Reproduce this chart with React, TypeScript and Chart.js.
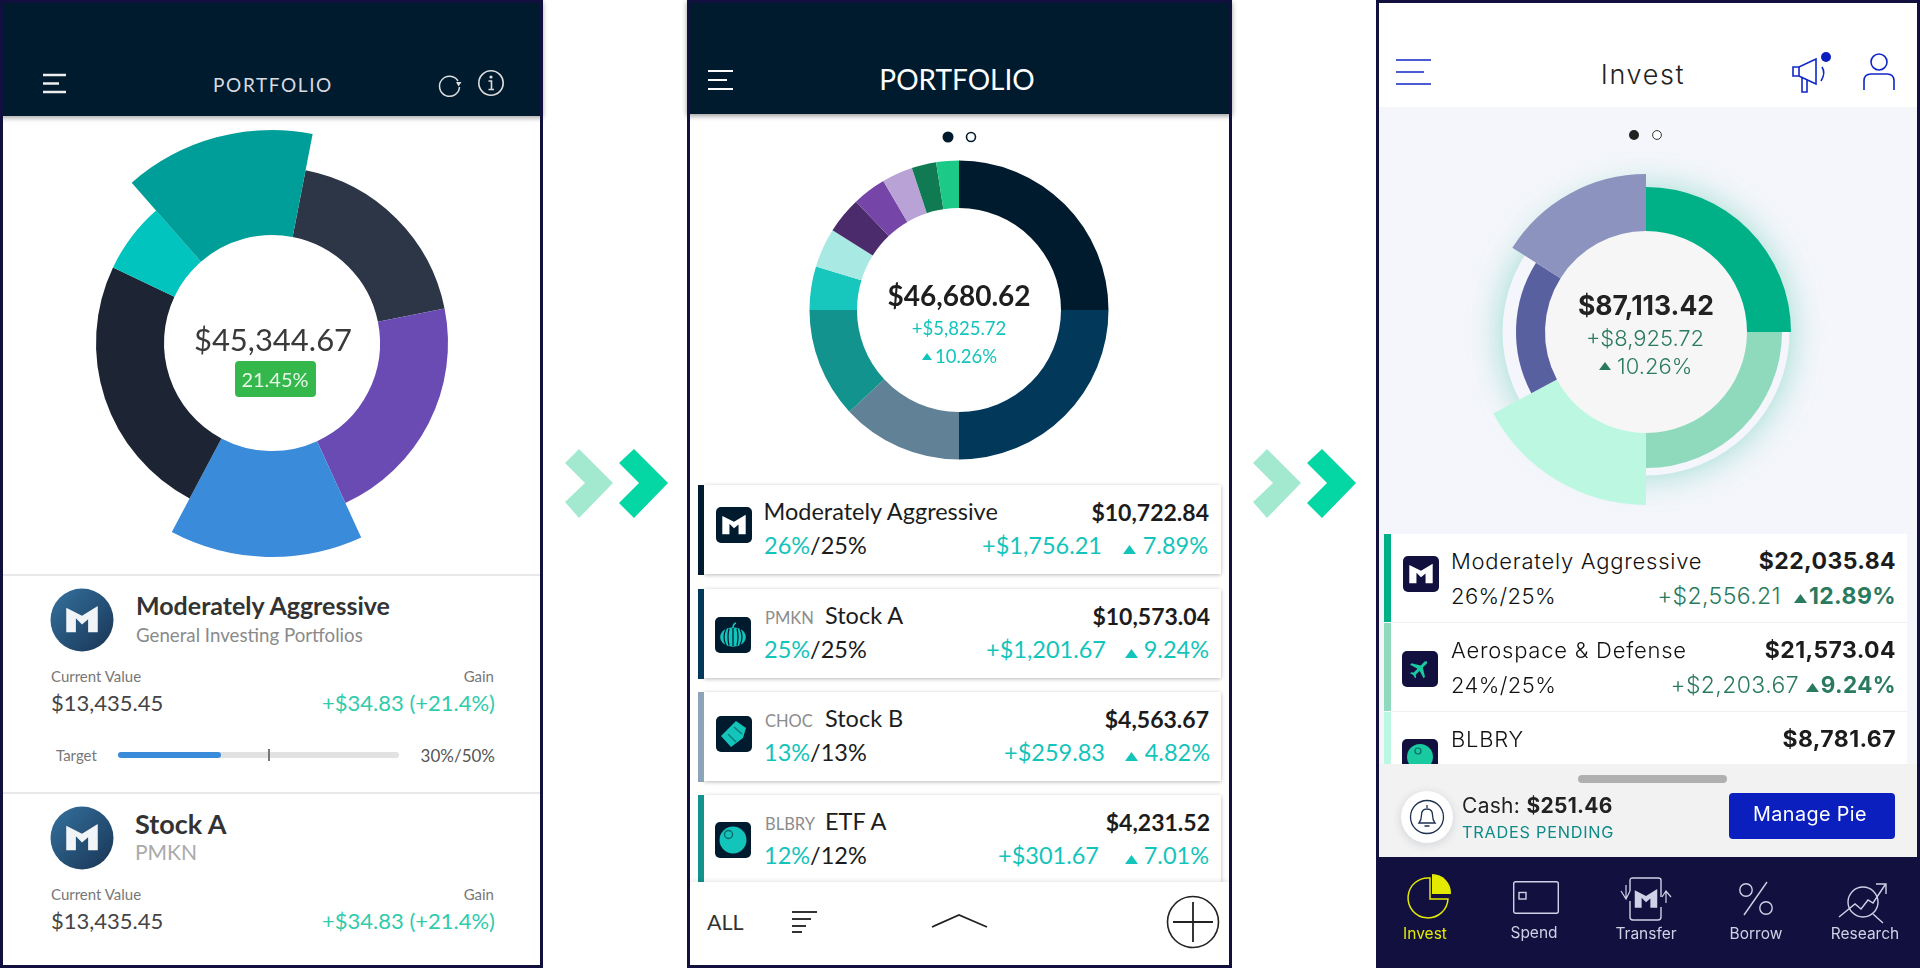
import React, { useEffect, useRef } from "react";
import Chart from "chart.js/auto";

const LATO = "Lato, sans-serif";
const INTER = "Inter, sans-serif";
const FRAME = "#12103f";
const HEAD = "#001a2e";
const MINT = "#13c4bb";
const GREEN3 = "#2a7a60";

// left screen
const holdings1 = ["Stock C", "Stock D", "Moderately Aggressive", "Stock A", "Stock B", "ETF A"];
const shares1 = [18.8, 21.3, 14.6, 24.3, 6.5, 14.5];
const colors1 = ["#2d3646", "#6a4bb3", "#3b8bdb", "#1d2433", "#00c4bd", "#009e99"];
const radii1 = [176, 176, 214, 176, 176, 213];

// middle screen
const holdings2 = ["Moderately Aggressive", "Stock A", "Stock B", "ETF A", "ETF B", "ETF C", "ETF D", "ETF E", "ETF F", "ETF G", "ETF H"];
const shares2 = [25, 25, 13.1, 11.9, 4.7, 4.25, 3.95, 3.65, 3.35, 2.65, 2.45];
const colors2 = ["#001a2e", "#02385a", "#618196", "#13938e", "#17c6bd", "#a8e9e4", "#4b2b6b", "#7545a8", "#b9a3d6", "#107a52", "#1cc986"];

const names2 = ["Moderately Aggressive", "Stock A", "Stock B", "ETF A"];
const tickers2 = ["", "PMKN", "CHOC", "BLBRY"];
const values2 = ["$10,722.84", "$10,573.04", "$4,563.67", "$4,231.52"];
const actual2 = ["26%", "25%", "13%", "12%"];
const target2 = ["25%", "25%", "13%", "12%"];
const gains2 = ["+$1,756.21", "+$1,201.67", "+$259.83", "+$301.67"];
const pct2 = ["7.89%", "9.24%", "4.82%", "7.01%"];

// right screen
const holdings3 = ["Moderately Aggressive", "Aerospace & Defense", "BLBRY", "Stock D", "Stock E"];
const shares3 = [25, 25, 17.2, 16.75, 16.05];
const colors3 = ["#00b086", "#8fd9bd", "#bcf7e2", "#5860a0", "#8c93be"];
const radii3 = [145, 136, 173, 130, 158];

const navLabels = ["Invest", "Spend", "Transfer", "Borrow", "Research"];

// doughnut has one outer radius per dataset, these screens pop single slices out
const ringShape = {
  id: "ringShape",
  afterDatasetsUpdate(chart: any, _a: any, opts: any) {
    chart.getDatasetMeta(0).data.forEach((arc: any, i: number) => {
      arc.innerRadius = opts.hole;
      arc.outerRadius = opts.radii[i];
    });
  },
  beforeDatasetsDraw(chart: any, _a: any, opts: any) {
    if (!opts.backing) return;
    const { ctx, width, height } = chart;
    ctx.save();
    ctx.shadowColor = "rgba(0,176,134,0.38)";
    ctx.shadowBlur = 34;
    ctx.fillStyle = opts.backing;
    ctx.beginPath();
    ctx.arc(width / 2, height / 2, opts.backingRadius, 0, Math.PI * 2);
    ctx.fill();
    ctx.shadowBlur = 0;
    ctx.shadowColor = "transparent";
    ctx.fillStyle = opts.holeColor;
    ctx.beginPath();
    ctx.arc(width / 2, height / 2, opts.hole, 0, Math.PI * 2);
    ctx.fill();
    ctx.restore();
  },
};

function Ring({ labels, values, colors, radii, hole, rotation = 0, cx, cy, size, backing, backingRadius, holeColor }: any) {
  const ref = useRef<HTMLCanvasElement>(null);
  useEffect(() => {
    const chart = new Chart(ref.current!, {
      type: "doughnut",
      data: { labels, datasets: [{ data: values, backgroundColor: colors, borderWidth: 0 }] },
      options: {
        responsive: false,
        animation: false,
        events: [],
        rotation,
        plugins: {
          legend: { display: false },
          tooltip: { enabled: false },
          ringShape: { radii, hole, backing, backingRadius, holeColor },
        } as any,
      },
      plugins: [ringShape as any],
    });
    return () => chart.destroy();
  }, []);
  return (
    <canvas
      ref={ref}
      width={size}
      height={size}
      style={{ position: "absolute", left: cx - size / 2, top: cy - size / 2, width: size, height: size }}
    />
  );
}

function T({ x, y, s, c = "#1c1c1c", f = LATO, w = 400, a = "l", ls = 0, children }: any) {
  const tx = a === "c" ? "translate(-50%,-50%)" : a === "r" ? "translate(-100%,-50%)" : "translateY(-50%)";
  return (
    <div
      style={{
        position: "absolute",
        left: x,
        top: y,
        transform: tx,
        fontFamily: f,
        fontSize: s,
        fontWeight: w,
        color: c,
        letterSpacing: ls,
        lineHeight: 1,
        whiteSpace: "nowrap",
      }}
    >
      {children}
    </div>
  );
}

function Box({ x, y, w, h, c, r = 0, sh }: any) {
  return (
    <div
      style={{ position: "absolute", left: x, top: y, width: w, height: h, background: c, borderRadius: r, boxShadow: sh }}
    />
  );
}

function Ico({ x, y, w, h, vb, children }: any) {
  return (
    <svg
      width={w}
      height={h}
      viewBox={vb || `0 0 ${w} ${h}`}
      style={{ position: "absolute", left: x, top: y, overflow: "visible" }}
    >
      {children}
    </svg>
  );
}

function Tri({ x, y, w = 13, h = 9, c }: any) {
  return (
    <Ico x={x} y={y} w={w} h={h}>
      <polygon points={`0,${h} ${w / 2},0 ${w},${h}`} fill={c} />
    </Ico>
  );
}

function Burger({ x, y, w, gap, c, lw, mid }: any) {
  return (
    <Ico x={x} y={y} w={w} h={gap * 2}>
      <path d={`M0 0H${w}M0 ${gap}H${mid}M0 ${gap * 2}H${w}`} stroke={c} strokeWidth={lw} fill="none" />
    </Ico>
  );
}

const M_PATH = "M3 5 L12 9.5 L21 4 L21 19 L15.5 19 L15.5 11.5 L12 14.5 L8.5 11 L8.5 19 L3 19 Z";

function MTile({ x, y, bg = "#001a2e" }: any) {
  return (
    <Ico x={x} y={y} w={36} h={36} vb="0 0 36 36">
      <rect width="36" height="36" rx="5" fill={bg} />
      <g transform="translate(2.4,2.5) scale(1.3)">
        <path d={M_PATH} fill="#fff" />
      </g>
    </Ico>
  );
}

function Roundel({ id, cx, cy }: any) {
  return (
    <Ico x={cx - 32} y={cy - 32} w={64} h={64} vb="0 0 64 64">
      <defs>
        <linearGradient id={id} x1="0" y1="0" x2="1" y2="1">
          <stop offset="0" stopColor="#35729f" />
          <stop offset="1" stopColor="#183454" />
        </linearGradient>
      </defs>
      <circle cx="32" cy="32" r="31.5" fill={`url(#${id})`} />
      <g transform="translate(11,11) scale(1.75)">
        <path d={M_PATH} fill="#f2f5f8" />
      </g>
    </Ico>
  );
}

function LeftRow({ y }: any) {
  return (
    <>
      <T x={51} y={y} s={15} c="#777">Current Value</T>
      <T x={494} y={y} s={15} c="#777" a="r">Gain</T>
      <T x={51} y={y + 27} s={22} c="#444">$13,435.45</T>
      <T x={495} y={y + 27} s={22} c="#2fcbab" a="r">+$34.83 (+21.4%)</T>
    </>
  );
}

function LeftScreen() {
  return (
    <div style={{ position: "absolute", left: 0, top: 0, width: 1920, height: 968, filter: "blur(0.55px)" }}>
      <Box x={0} y={0} w={543} h={968} c="#fff" />
      <Box x={0} y={0} w={543} h={116} c={HEAD} sh="0 2px 5px rgba(0,0,0,.35)" />
      <Burger x={43} y={75} w={23} gap={8.5} c="#eee" lw={2.4} mid={16} />
      <T x={273} y={84} s={19} c="#d8dce0" a="c" ls={1.6}>PORTFOLIO</T>
      <Ico x={438} y={73} w={24} h={24} vb="0 0 24 24">
        <path d="M20 8A10 10 0 1 0 21.5 14" stroke="#ddd" strokeWidth="1.5" fill="none" />
        <polygon points="23.5,9 18,9 20.5,13.5" fill="#ddd" />
      </Ico>
      <Ico x={478} y={70} w={26} h={26} vb="0 0 26 26">
        <circle cx="13" cy="13" r="12.2" stroke="#ddd" strokeWidth="1.6" fill="none" />
        <circle cx="13" cy="7" r="1.6" fill="#ddd" />
        <path d="M10.5 11H13.5V19M10.5 19.5H16" stroke="#ddd" strokeWidth="1.6" fill="none" />
      </Ico>
      <Ring labels={holdings1} values={shares1} colors={colors1} radii={radii1} hole={108} rotation={11} cx={272} cy={343} size={450} />
      <T x={273} y={339} s={31} c="#3a3a3a" a="c">$45,344.67</T>
      <Box x={235} y={361} w={81} h={36} c="#34b84c" r={4} />
      <T x={275} y={379} s={20} c="#e6f8e8" a="c">21.45%</T>

      <Box x={3} y={574} w={537} h={2} c="#e8e8e8" />
      <Roundel id="rd1" cx={82} cy={620} />
      <T x={136} y={605} s={25} c="#333" w={700}>Moderately Aggressive</T>
      <T x={136} y={635} s={18.7} c="#8a8a8a">General Investing Portfolios</T>
      <LeftRow y={676} />
      <T x={56} y={755} s={15} c="#777">Target</T>
      <Box x={118} y={752} w={281} h={6} c="#e2e2e2" r={3} />
      <Box x={118} y={752} w={103} h={6} c="#3b8bdb" r={3} />
      <Box x={268} y={749} w={2} h={12} c="#777" />
      <T x={495} y={755} s={17} c="#555" a="r">30%/50%</T>
      <Box x={3} y={792} w={537} h={2} c="#e8e8e8" />
      <Roundel id="rd2" cx={82} cy={838} />
      <T x={135} y={823} s={27} c="#333" w={700}>Stock A</T>
      <T x={135} y={851} s={21} c="#aaa">PMKN</T>
      <LeftRow y={894} />

      <div style={{ position: "absolute", left: 0, top: 0, width: 543, height: 968, boxSizing: "border-box", border: `3px solid ${FRAME}` }} />
    </div>
  );
}

const cardTops2 = [485, 589, 692, 795];
const stripes2 = ["#001a2e", "#02385a", "#8ba4b8", "#13938e"];

function PumpkinIcon() {
  return (
    <g fill="none" stroke={MINT} strokeWidth="1.6">
      <ellipse cx="18" cy="20" rx="12" ry="9" fill={MINT} />
      <path d="M11 12Q7 20 11 28M18 11V29M25 12Q29 20 25 28M14 11.5Q12 20 14 28.5M22 11.5Q24 20 22 28.5" stroke="#001a2e" strokeWidth="1.2" />
      <path d="M18 11Q18 7 21 6" />
    </g>
  );
}

function ChocIcon() {
  return (
    <g>
      <polygon points="5,20 20,5 30,12 27,22 15,31" fill={MINT} />
      <path d="M12 18L20 26M18 11L26 18" stroke="#0d7d78" strokeWidth="1.5" />
    </g>
  );
}

function BerryIcon() {
  return (
    <g>
      <circle cx="18" cy="18" r="13.5" fill={MINT} />
      <circle cx="13.5" cy="12.5" r="4" fill="none" stroke="#0a6b68" strokeWidth="1.4" />
    </g>
  );
}

function MiddleScreen() {
  const tileX = [716, 715, 716, 715];
  const tileY = [507, 617, 716, 822];
  const valRight = [1209, 1210, 1209, 1210];
  const gainRight = [1102, 1106, 1105, 1099];
  const triX = [1123, 1125, 1125, 1125];
  const pctRight = [1208, 1209, 1210, 1209];
  const art = [null, <PumpkinIcon />, <ChocIcon />, <BerryIcon />];
  return (
    <>
      <Box x={687} y={0} w={545} h={968} c="#fff" />
      <Box x={687} y={0} w={545} h={114} c={HEAD} sh="0 2px 5px rgba(0,0,0,.4)" />
      <Burger x={708} y={71} w={25} gap={9} c="#fff" lw={2.2} mid={19} />
      <T x={957} y={79} s={28} c="#fff" a="c">PORTFOLIO</T>
      <Ico x={940} y={129} w={40} h={16}>
        <circle cx="8" cy="8" r="5.5" fill={HEAD} />
        <circle cx="31" cy="8" r="4.5" fill="#fff" stroke={HEAD} strokeWidth="1.6" />
      </Ico>
      <Ring labels={holdings2} values={shares2} colors={colors2} radii={shares2.map(() => 149.5)} hole={102} cx={959} cy={310} size={320} />
      <T x={959} y={295} s={28} c="#1e1e1e" a="c" w={700}>$46,680.62</T>
      <T x={959} y={328} s={18.5} c={MINT} a="c">+$5,825.72</T>
      <Tri x={922} y={353} w={10} h={7} c={MINT} />
      <T x={935} y={356} s={18.5} c={MINT}>10.26%</T>

      {names2.map((name, i) => {
        const top = cardTops2[i];
        return (
          <React.Fragment key={name}>
            <Box x={704} y={top} w={517} h={89} c="#fff" sh="0 1px 4px rgba(0,0,0,.28)" />
            <Box x={698} y={top} w={6} h={90} c={stripes2[i]} />
            {i === 0 ? (
              <MTile x={tileX[i]} y={tileY[i]} />
            ) : (
              <Ico x={tileX[i]} y={tileY[i]} w={36} h={36}>
                <rect width="36" height="36" rx="5" fill={HEAD} />
                {art[i]}
              </Ico>
            )}
            {tickers2[i] ? (
              <>
                <T x={765} y={top + 29} s={16.5} c="#8c8c8c">{tickers2[i]}</T>
                <T x={825} y={top + 27} s={23.5}>{name}</T>
              </>
            ) : (
              <T x={763.5} y={top + 27} s={23.5}>{name}</T>
            )}
            <T x={valRight[i]} y={top + 27} s={23} a="r" w={700}>{values2[i]}</T>
            <T x={764} y={top + 61} s={23.5}>
              <span style={{ color: MINT }}>{actual2[i]}</span>/{target2[i]}
            </T>
            <T x={gainRight[i]} y={top + 61} s={23.5} c={MINT} a="r">{gains2[i]}</T>
            <Tri x={triX[i]} y={top + 60} c={MINT} />
            <T x={pctRight[i]} y={top + 61} s={23.5} c={MINT} a="r">{pct2[i]}</T>
          </React.Fragment>
        );
      })}

      <Box x={690} y={882} w={539} h={83} c="#fff" sh="0 -2px 4px rgba(0,0,0,.08)" />
      <T x={707} y={923} s={21.5} c="#333">ALL</T>
      <Ico x={792} y={911} w={25} h={21}>
        <path d="M0 1H25M0 8H19M0 15H14M0 21H10" stroke="#333" strokeWidth="2.2" />
      </Ico>
      <Ico x={932} y={914} w={55} h={13}>
        <path d="M0 13L27 1L55 13" stroke="#222" strokeWidth="1.8" fill="none" />
      </Ico>
      <Ico x={1167} y={896} w={52} h={52}>
        <circle cx="26" cy="26" r="25.5" fill="none" stroke="#222" strokeWidth="1.6" />
        <path d="M6 26H46M26 6V46" stroke="#222" strokeWidth="1.8" />
      </Ico>
      <div style={{ position: "absolute", left: 687, top: 0, width: 545, height: 968, boxSizing: "border-box", border: `3px solid ${FRAME}` }} />
    </>
  );
}

function Row3({ top, name, value, pctL, gain, gainRight, triX, pct, pctS, stripe, tileY, tileX, tile }: any) {
  return (
    <>
      <Box x={1391} y={top} w={516} h={88} c="#fff" />
      <Box x={1384} y={top} w={7} h={88} c={stripe} />
      {tile === "m" ? (
        <MTile x={tileX} y={tileY} bg={FRAME} />
      ) : (
        <Ico x={tileX} y={tileY} w={36} h={36}>
          <rect width="36" height="36" rx="5" fill={FRAME} />
          <g transform="translate(6,6) rotate(45 12 12)">
            <path d="M21 16v-2l-8-5V3.5c0-.83-.67-1.5-1.5-1.5S10 2.67 10 3.5V9l-8 5v2l8-2.5V19l-2 1.5V22l3.5-1 3.5 1v-1.5L13 19v-5.5l8 2.5z" fill="#19c9a0" />
          </g>
        </Ico>
      )}
      <T x={1451} y={top + 27} s={22} f={INTER} w={300} ls={0.75} c="#111">{name}</T>
      <T x={1896} y={top + 27} s={23} f={INTER} w={700} a="r" ls={0.4}>{value}</T>
      <T x={1451} y={top + 62} s={22} f={INTER} w={300} ls={0.4} c="#111">{pctL}</T>
      <T x={gainRight} y={top + 62} s={23} f={INTER} w={300} c={GREEN3} a="r" ls={0.4}>{gain}</T>
      <Tri x={triX} y={top + 60} c={GREEN3} />
      <T x={1896} y={top + 62} s={pctS} f={INTER} w={700} c={GREEN3} a="r" ls={0.4}>{pct}</T>
    </>
  );
}

function RightScreen() {
  const navX = [1425, 1534, 1646, 1756, 1865];
  const line = "#cfd2e6";
  return (
    <>
      <Box x={1376} y={0} w={544} h={968} c="#f4f6fb" />
      <Box x={1379} y={0} w={541} h={107} c="#fff" />
      <Burger x={1396} y={60} w={35} gap={12} c="#1027c8" lw={1.6} mid={28} />
      <T x={1643} y={74} s={27} f={INTER} w={300} c="#222" a="c" ls={1.6}>Invest</T>
      <Ico x={1791} y={50} w={40} h={44}>
        <path d="M2 17H8L25 9V34L8 26H2ZM8 17V26M11 27V42H16V29" stroke="#1027c8" strokeWidth="1.6" fill="none" />
        <path d="M31 17Q35 23 30 31" stroke="#1027c8" strokeWidth="1.6" fill="none" />
        <circle cx="35" cy="7" r="5" fill="#0a1fbe" />
      </Ico>
      <Ico x={1863} y={53} w={32} h={38}>
        <circle cx="16" cy="9" r="8" stroke="#1027c8" strokeWidth="1.6" fill="none" />
        <path d="M1 37V28Q1 21 8 21H24Q31 21 31 28V37" stroke="#1027c8" strokeWidth="1.6" fill="none" />
      </Ico>
      <Ico x={1626} y={127} w={40} h={16}>
        <circle cx="8" cy="8" r="5" fill="#222" />
        <circle cx="31" cy="8" r="4.4" fill="#fff" stroke="#333" strokeWidth="1" />
      </Ico>
      <Ring
        labels={holdings3}
        values={shares3}
        colors={colors3}
        radii={radii3}
        hole={101}
        cx={1646}
        cy={332}
        size={440}
        backing="#f4f6fb"
        backingRadius={143.5}
        holeColor="#f6f6f6"
      />
      <T x={1646} y={305} s={26.5} f={INTER} w={700} c="#222" a="c">$87,113.42</T>
      <T x={1645} y={338} s={22} f={INTER} w={300} c={GREEN3} a="c">+$8,925.72</T>
      <Tri x={1599} y={362} w={12} h={8} c={GREEN3} />
      <T x={1617} y={366} s={22} f={INTER} w={300} c={GREEN3}>10.26%</T>

      <Row3 top={534} name={names2[0]} value="$22,035.84" pctL="26%/25%" gain="+$2,556.21" gainRight={1781} triX={1794} pct="12.89%" pctS={23} stripe={colors3[0]} tile="m" tileX={1403} tileY={556} />
      <Box x={1391} y={622} w={516} h={1} c="#eef0f4" />
      <Row3 top={623} name={holdings3[1]} value="$21,573.04" pctL="24%/25%" gain="+$2,203.67" gainRight={1799} triX={1806} pct="9.24%" pctS={22.5} stripe={colors3[1]} tile="p" tileX={1402} tileY={651} />
      <Box x={1391} y={711} w={516} h={1} c="#eef0f4" />
      <Box x={1391} y={712} w={516} h={53} c="#fff" />
      <Box x={1384} y={712} w={7} h={53} c={colors3[2]} />
      <T x={1451} y={739} s={22} f={INTER} w={300} ls={0.75} c="#111">BLBRY</T>
      <T x={1896} y={739} s={23} f={INTER} w={700} a="r" ls={0.4}>$8,781.67</T>
      <div style={{ position: "absolute", left: 1402, top: 739, width: 36, height: 25, overflow: "hidden" }}>
        <Ico x={0} y={0} w={36} h={36}>
          <rect width="36" height="36" rx="5" fill={FRAME} />
          <circle cx="18" cy="18" r="13" fill="#19c9a0" />
          <circle cx="16" cy="12" r="3" fill="none" stroke="#0a6b68" strokeWidth="1.2" />
        </Ico>
      </div>

      <Box x={1379} y={764} w={538} h={93} c="#f2f2f2" />
      <Box x={1578} y={775} w={149} h={8} c="#b0b0b0" r={4} />
      <Box x={1401} y={791} w={52} h={52} c="#fff" r={26} sh="0 2px 10px rgba(40,50,90,.16)" />
      <Ico x={1409} y={799} w={36} h={36}>
        <circle cx="18" cy="18" r="16.5" fill="none" stroke="#1c3050" strokeWidth="1.3" />
        <path d="M10 24Q12.5 21 12.5 16Q12.5 10 18 10Q23.5 10 23.5 16Q23.5 21 26 24ZM15.5 27H20.5M18 6V9" fill="none" stroke="#1c3050" strokeWidth="1.3" />
      </Ico>
      <T x={1462} y={805} s={21} f={INTER} c="#222" ls={0.3}>
        Cash: <span style={{ fontWeight: 700 }}>$251.46</span>
      </T>
      <T x={1462} y={832} s={16.3} f={INTER} c="#0e8a88" ls={0.75}>TRADES PENDING</T>
      <Box x={1729} y={793} w={166} h={46} c="#0a1fbe" r={4} />
      <T x={1810} y={815} s={19.8} f={INTER} c="#fff" a="c" ls={0.4}>Manage Pie</T>

      <Box x={1376} y={857} w={544} h={111} c={FRAME} />
      {navLabels.map((label, i) => (
        <T key={label} x={navX[i]} y={i === 1 ? 933 : 934} s={15.5} f={INTER} c={i === 0 ? "#e3ea00" : line} a="c">
          {label}
        </T>
      ))}
      <Ico x={1406} y={874} w={46} h={46}>
        <path d="M24 4A20 20 0 1 0 42 25H24Z" fill="none" stroke="#e3ea00" strokeWidth="1.5" />
        <path d="M26 0A19 19 0 0 1 45 20H26Z" fill="#e3ea00" />
      </Ico>
      <Ico x={1513} y={881} w={46} h={33}>
        <rect x="0.7" y="0.7" width="44.6" height="31.6" rx="2" fill="none" stroke={line} strokeWidth="1.4" />
        <rect x="6" y="11.5" width="7" height="6.5" fill="none" stroke={line} strokeWidth="1.4" />
      </Ico>
      <Ico x={1620} y={877} w={52} h={44}>
        <path d="M10 14V3Q10 1 13 1H38Q41 1 41 3V20M41 30V40Q41 43 38 43H13Q10 43 10 40V24" fill="none" stroke={line} strokeWidth="1.4" />
        <path d="M1 14L6 22L10 14M6 22V8M46 26V14M42 20L46 14L51 20" fill="none" stroke={line} strokeWidth="1.2" />
        <g transform="translate(11,7) scale(1.25)">
          <path d={M_PATH} fill={line} />
        </g>
      </Ico>
      <Ico x={1739} y={882} w={34} h={34}>
        <circle cx="7" cy="8" r="6.2" fill="none" stroke={line} strokeWidth="1.4" />
        <circle cx="27" cy="26" r="6.2" fill="none" stroke={line} strokeWidth="1.4" />
        <path d="M5 33L28 0" stroke={line} strokeWidth="1.4" />
      </Ico>
      <Ico x={1839} y={883} w={48} h={40}>
        <circle cx="24" cy="19" r="15" fill="none" stroke={line} strokeWidth="1.4" />
        <path d="M0 34L16 21L22 26L29 17L34 20L46 2M37 1H47V11M34 31L44 40" fill="none" stroke={line} strokeWidth="1.4" />
      </Ico>
      <div style={{ position: "absolute", left: 1376, top: 0, width: 544, height: 968, boxSizing: "border-box", borderStyle: "solid", borderColor: FRAME, borderWidth: "3px 3px 0 3px" }} />
    </>
  );
}

function Arrows({ dx }: any) {
  return (
    <Ico x={dx} y={0} w={120} h={530}>
      <polygon points="579,449 565,463 585,483 565,502 579,518 613,483" fill="#a3e9d0" transform="translate(-565,0)" />
      <polygon points="634,449 619,463 639,483 619,503 634,518 668,483" fill="#04d6a4" transform="translate(-565,0)" />
    </Ico>
  );
}

export default function App() {
  return (
    <div style={{ position: "fixed", left: 0, top: 0, width: 1920, height: 968, background: "#fff", overflow: "hidden" }}>
      <LeftScreen />
      <Arrows dx={565} />
      <MiddleScreen />
      <Arrows dx={1253} />
      <RightScreen />
    </div>
  );
}
